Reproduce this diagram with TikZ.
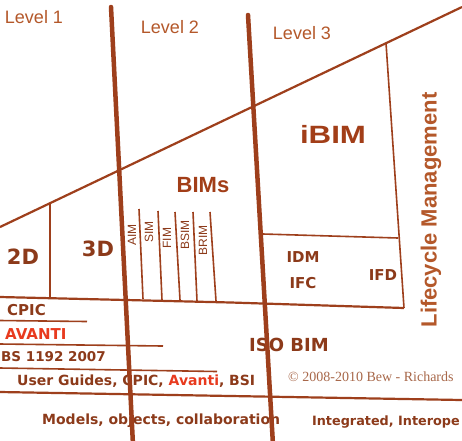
\documentclass[tikz,border=0pt]{standalone}
\usepackage{fontspec}
\setmainfont{Liberation Sans}
\newfontfamily\verd{DejaVu Sans}
\newfontfamily\copyf{Liberation Serif}
\definecolor{linec}{HTML}{9E3F1C}
\definecolor{levelc}{HTML}{B4582A}
\definecolor{darkc}{HTML}{8C3A1A}
\definecolor{bimc}{HTML}{A23E18}
\definecolor{redc}{HTML}{E83A1E}
\definecolor{copyc}{HTML}{A8684A}
\tikzset{
  lvl/.style={font=\fontsize{18}{20}\selectfont, text=levelc, inner sep=0pt},
  vlab/.style={font=\verd\bfseries\fontsize{15}{17}\selectfont, text=darkc, inner sep=0pt},
  biglab/.style={font=\bfseries\fontsize{22}{24}\selectfont, text=bimc, inner sep=0pt},
  sublab/.style={font=\fontsize{12}{14}\selectfont, text=darkc, inner sep=0pt, rotate=90},
  thickline/.style={draw=linec, line width=4.5pt, line cap=round},
  midline/.style={draw=linec, line width=2.2pt},
  thinline/.style={draw=linec, line width=1.6pt}
}
\begin{document}
\begin{tikzpicture}[x=1pt,y=-1pt]
\useasboundingbox (0,0) rectangle (462,440);
\clip (0,0) rectangle (462,440);
\fill[white] (0,0) rectangle (462,440);

% level labels
\node[lvl] (l1) at (34,17) {Level 1};
\node[lvl] (l2) at (170,27) {Level 2};
\node[lvl] (l3) at (302,33) {Level 3};

% big labels
\node[biglab, font=\bfseries\fontsize{25}{27}\selectfont, xscale=1.25] (ibim) at (333,134) {iBIM};
\node[biglab] (bims) at (203,185) {BIMs};
\node[font=\bfseries\fontsize{22}{24}\selectfont, text=levelc, inner sep=0pt, rotate=90] (lcm) at (431,210) {Lifecycle Management};

% 2D / 3D
\node[vlab, font=\verd\bfseries\fontsize{21}{23}\selectfont] (d2) at (23,257) {2D};
\node[vlab, font=\verd\bfseries\fontsize{21}{23}\selectfont] (d3) at (98,249) {3D};

% BIM sub labels
\node[sublab] (aim) at (132,235) {AIM};
\node[sublab] (sim) at (149,232) {SIM};
\node[sublab] (fim) at (167,238) {FIM};
\node[sublab] (bsim) at (185,235) {BSIM};
\node[sublab] (brim) at (203,240) {BRIM};

% IDM etc
\node[vlab] (idm) at (303,257) {IDM};
\node[vlab] (ifc) at (303,283) {IFC};
\node[vlab] (ifd) at (383,275) {IFD};

% level 1 standards
\node[vlab, anchor=west] (cpic) at (7,310) {CPIC};
\node[vlab, anchor=west, text=redc] (avanti) at (5,334) {AVANTI};
\node[vlab, anchor=west, font=\verd\bfseries\fontsize{13.5}{15}\selectfont] (bs) at (1,357) {BS 1192 2007};
\node[vlab, anchor=west, font=\verd\bfseries\fontsize{14}{16}\selectfont] (ug) at (17,381) {User Guides, CPIC, \textcolor{redc}{Avanti}, BSI};

\node[vlab, font=\verd\bfseries\fontsize{18}{20}\selectfont] (iso) at (289,345) {ISO BIM};
\node[font=\copyf\fontsize{14}{16}\selectfont, text=copyc, inner sep=0pt, anchor=west] (copy) at (288,377) {\textcopyright\ 2008-2010 Bew - Richards};

\node[vlab, anchor=west, font=\verd\bfseries\fontsize{14}{16}\selectfont] (models) at (42,421) {Models, objects, collaboration};
\node[vlab, anchor=east, font=\verd\bfseries\fontsize{12.8}{15}\selectfont] (integ) at (460,422) {Integrated, Interope};

% coordinates
\coordinate (dl) at (0,227);
\coordinate (dr) at (462,7);
\coordinate (t1) at (111,7);
\coordinate (b1) at (133,445);
\coordinate (t2) at (248,15);
\coordinate (b2) at (273,445);

% diagonal
\draw[midline] (dl) -- (dr);
% vertical thin at 2D/3D
\draw[thinline] (50,203) -- (50,297);
% right vertical
\draw[thinline] (386,43) -- (404,308);
% long horizontal under 2D/3D/BIMs
\draw[midline] (0,297) -- (231,302.5) -- (404,308);
% box line IDM
\draw[thinline] (263,234) -- (398,238);
% BIM sub columns
\draw[thinline] (139,209) -- (143,299);
\draw[thinline] (158,211) -- (162,300);
\draw[thinline] (175,212) -- (180,300);
\draw[thinline] (193,212) -- (197,301);
\draw[thinline] (210,212) -- (216,301);
% level 1 underlines
\draw[thinline] (0,320.5) -- (87,321.5);
\draw[thinline] (0,344) -- (163,346);
\draw[thinline] (0,368) -- (217,371.5);
% bottom full line
\draw[midline] (0,392) -- (462,400);
% thick verticals
\draw[thickline] (t1) -- (b1);
\draw[thickline] (t2) -- (b2);
\end{tikzpicture}
\end{document}
